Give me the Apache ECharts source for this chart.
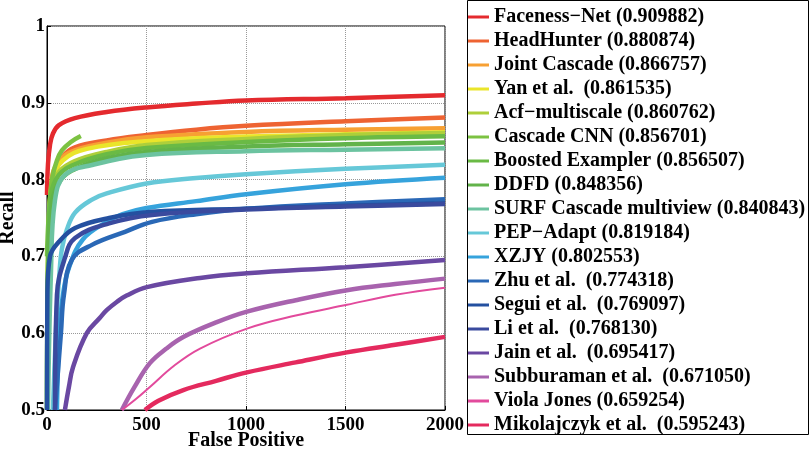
<!DOCTYPE html>
<html>
<head>
<meta charset="utf-8">
<script src="https://cdn.jsdelivr.net/npm/echarts@6/dist/echarts.min.js"></script>
<style>
  html, body { margin: 0; padding: 0; background: #fff; }
  #roc { width: 811px; height: 449px; }
</style>
</head>
<body>
<div id="roc"></div>
<script>
// legend labels (method + score at 2000 false positives)
var labels = [
  "Faceness\u2212Net (0.909882)",
  "HeadHunter (0.880874)",
  "Joint Cascade (0.866757)",
  "Yan et al.  (0.861535)",
  "Acf\u2212multiscale (0.860762)",
  "Cascade CNN (0.856701)",
  "Boosted Exampler (0.856507)",
  "DDFD (0.848356)",
  "SURF Cascade multiview (0.840843)",
  "PEP\u2212Adapt (0.819184)",
  "XZJY (0.802553)",
  "Zhu et al.  (0.774318)",
  "Segui et al.  (0.769097)",
  "Li et al.  (0.768130)",
  "Jain et al.  (0.695417)",
  "Subburaman et al.  (0.671050)",
  "Viola Jones (0.659254)",
  "Mikolajczyk et al.  (0.595243)"
];

// [false positives, recall]
var faceness = [[0,0.78],[5,0.82],[15,0.845],[30,0.86],[60,0.871],[140,0.880],[300,0.888],[500,0.894],[750,0.899],[1000,0.903],[1500,0.906],[2000,0.909882]];
var headHunter = [[15,0.72],[30,0.79],[45,0.81],[75,0.829],[140,0.842],[300,0.851],[500,0.858],[750,0.865],[1000,0.870],[1500,0.876],[2000,0.880874]];
var jointCascade = [[5,0.70],[20,0.79],[40,0.816],[110,0.835],[300,0.848],[500,0.855],[1000,0.862],[1500,0.865],[2000,0.866757]];
var yan = [[2,0.60],[10,0.75],[30,0.80],[80,0.825],[200,0.840],[500,0.850],[1000,0.856],[1500,0.859],[2000,0.861535]];
var acf = [[2,0.55],[8,0.72],[25,0.79],[60,0.810],[140,0.824],[300,0.836],[500,0.845],[1000,0.853],[1500,0.858],[2000,0.860762]];
var cascadeCnn = [[0,0.70],[8,0.75],[25,0.80],[50,0.825],[75,0.838],[120,0.849],[170,0.856701]];
var boosted = [[0,0.50],[5,0.70],[20,0.78],[60,0.806],[140,0.820],[300,0.833],[500,0.841],[1000,0.849],[1500,0.854],[2000,0.856507]];
var ddfd = [[0,0.50],[6,0.68],[25,0.77],[70,0.80],[150,0.815],[300,0.828],[500,0.836],[1000,0.843],[1500,0.846],[2000,0.848356]];
var surf = [[5,0.50],[20,0.68],[40,0.773],[90,0.806],[226,0.819],[500,0.832],[1000,0.837],[1500,0.839],[2000,0.840843]];
var pepAdapt = [[30,0.50],[48,0.62],[62,0.676],[75,0.71],[100,0.735],[141,0.757],[226,0.774],[300,0.782],[500,0.795],[750,0.802],[1000,0.807],[1500,0.814],[2000,0.819184]];
var xzjy = [[50,0.50],[62,0.60],[80,0.65],[110,0.685],[180,0.722],[300,0.745],[380,0.755],[500,0.763],[750,0.772],[1000,0.781],[1500,0.794],[2000,0.802553]];
var zhu = [[40,0.50],[70,0.60],[85,0.65],[126,0.696],[226,0.715],[392,0.732],[528,0.745],[750,0.755],[1000,0.762],[1500,0.769],[2000,0.774318]];
var segui = [[0,0.50],[2,0.65],[15,0.70],[60,0.719],[141,0.737],[312,0.750],[528,0.758],[1000,0.762],[1500,0.766],[2000,0.769097]];
var li = [[40,0.50],[50,0.65],[90,0.698],[141,0.724],[312,0.743],[528,0.754],[1000,0.761],[1500,0.765],[2000,0.768130]];
var jain = [[90,0.50],[110,0.53],[131,0.556],[200,0.600],[266,0.620],[300,0.630],[352,0.641],[400,0.649],[502,0.660],[769,0.672],[1005,0.678],[1500,0.686],[2000,0.695417]];
var subburaman = [[376,0.50],[440,0.53],[517,0.561],[600,0.58],[685,0.595],[850,0.614],[1005,0.628],[1250,0.643],[1507,0.656],[1750,0.664],[2000,0.671050]];
var violaJones = [[376,0.50],[450,0.515],[517,0.530],[640,0.558],[769,0.580],[1005,0.606],[1250,0.623],[1507,0.637],[1750,0.650],[2000,0.659254]];
var mikolajczyk = [[492,0.50],[560,0.512],[685,0.526],[850,0.538],[1005,0.549],[1250,0.562],[1507,0.575],[1750,0.585],[2000,0.595243]];

var curves = [faceness, headHunter, jointCascade, yan, acf, cascadeCnn, boosted, ddfd, surf,
  pepAdapt, xzjy, zhu, segui, li, jain, subburaman, violaJones, mikolajczyk];

var colors = ["#e42a2e", "#ee6332", "#f7a033", "#eae52a", "#aecf3a", "#7cc242", "#6aba45", "#62b34a", "#6cc3a0",
  "#66c8d8", "#36a3dc", "#2a68b6", "#2450a0", "#3a4a9e", "#6a48a2", "#a863ae", "#e24a9c", "#e42a5e"];

var xTicks = [0, 500, 1000, 1500, 2000];

var serif = "'Liberation Serif', 'DejaVu Serif', serif";

var chart = echarts.init(document.getElementById("roc"));

var series = curves.map(function (d, i) {
  return {
    name: labels[i],
    type: "line",
    data: d,
    showSymbol: false,
    smooth: 0.4,
    lineStyle: { width: i == 16 ? 2 : 4.5, color: colors[i] },
    itemStyle: { color: colors[i] }
  };
});

var option = {
  animation: false,
  backgroundColor: "#fff",
  grid: {
    left: 47, right: 366, top: 26, bottom: 39,
    outerBoundsMode: "none",
    containLabel: false,
    show: true, borderColor: "#000", borderWidth: 1
  },
  xAxis: {
    type: "value",
    min: 0, max: 2000, interval: 500,
    name: "False Positive",
    nameLocation: "middle",
    nameGap: 21,
    nameMoveOverlap: false,
    nameTextStyle: { fontFamily: serif, fontWeight: "bold", fontSize: 20, color: "#000" },
    axisLine: { show: true, lineStyle: { color: "#000" } },
    axisTick: { show: true, inside: true, length: 4, lineStyle: { color: "#000" } },
    axisLabel: {
      margin: 6, color: "#000", fontFamily: serif, fontWeight: "bold", fontSize: 19,
      formatter: function (v) { return xTicks.indexOf(v) >= 0 ? String(v) : ""; }
    },
    splitLine: { show: true, lineStyle: { type: "dotted", color: "#999" } }
  },
  yAxis: {
    type: "value",
    min: 0.5, max: 1, interval: 0.1,
    name: "Recall",
    nameLocation: "middle",
    nameGap: 29,
    nameMoveOverlap: false,
    nameTextStyle: { fontFamily: serif, fontWeight: "bold", fontSize: 20, color: "#000" },
    axisLine: { show: true, lineStyle: { color: "#000" } },
    axisTick: { show: true, inside: true, length: 4, lineStyle: { color: "#000" } },
    axisLabel: {
      margin: 2, color: "#000", fontFamily: serif, fontWeight: "bold", fontSize: 19,
      formatter: function (v) { return Math.abs(v - 1) < 1e-9 ? "1" : v.toFixed(1); }
    },
    splitLine: { show: true, lineStyle: { type: "dotted", color: "#999" } }
  },
  legend: {
    orient: "vertical",
    left: 467, top: 1,
    padding: [4, 3, 3, 1],
    itemGap: 0,
    itemWidth: 21,
    itemHeight: 3,
    icon: "rect",
    selectedMode: false,
    backgroundColor: "#fff",
    textStyle: { fontFamily: serif, fontWeight: "bold", fontSize: 20, color: "#000", lineHeight: 24 },
    data: labels
  },
  graphic: [{
    type: "rect",
    z: 200,
    shape: { x: 467.5, y: 0.5, width: 341, height: 434 },
    style: { fill: null, stroke: "#000", lineWidth: 1 },
    silent: true
  }],
  series: series
};

chart.setOption(option);
</script>
</body>
</html>
